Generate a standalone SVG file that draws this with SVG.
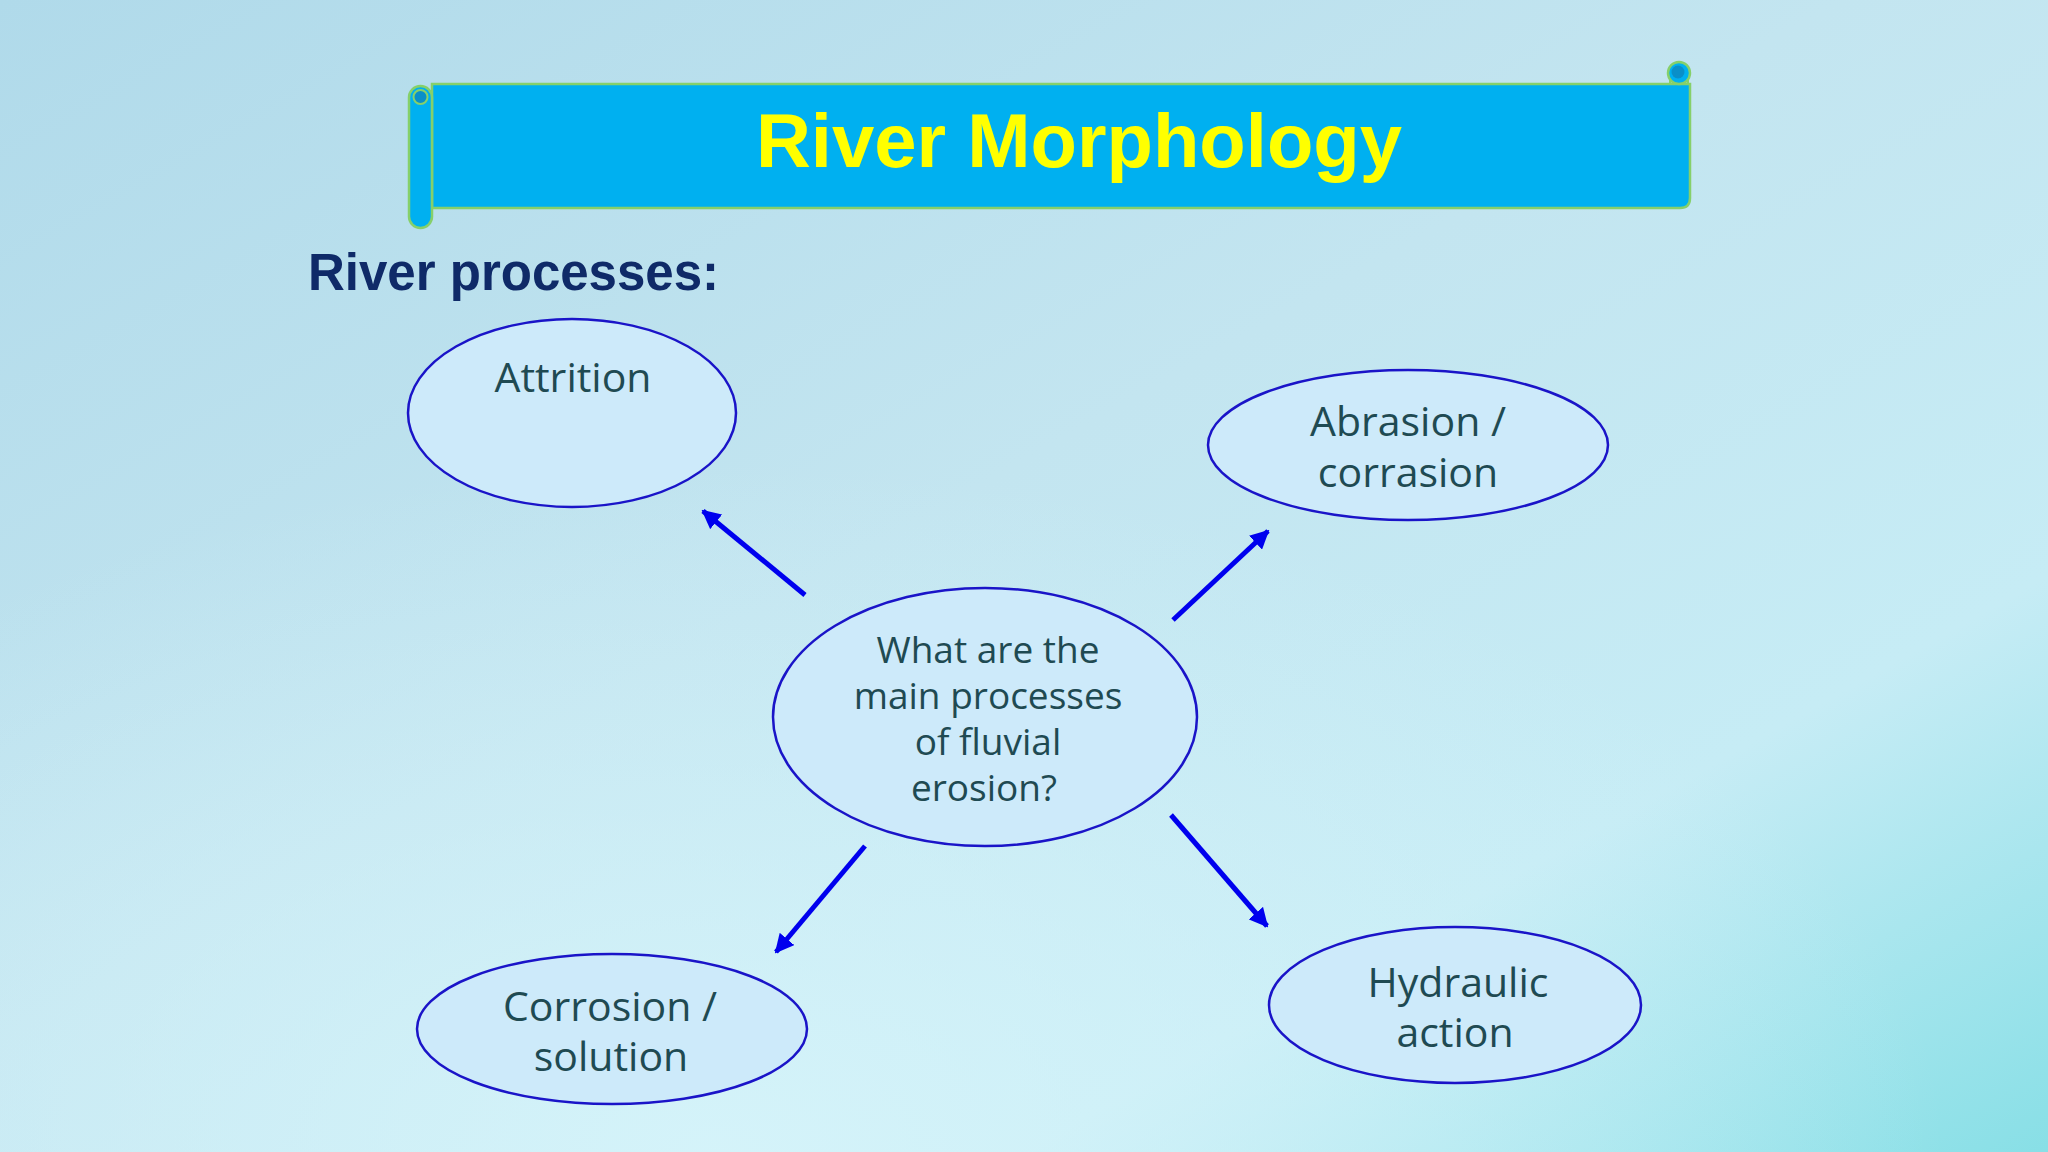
<svg xmlns="http://www.w3.org/2000/svg" width="2048" height="1152" viewBox="0 0 2048 1152">
<defs>
<linearGradient id="bg" x1="0" y1="0" x2="1" y2="1">
<stop offset="0" stop-color="#b0daea"/>
<stop offset="0.45" stop-color="#c3e5f0"/>
<stop offset="0.75" stop-color="#c6ecf5"/>
<stop offset="1" stop-color="#88dfe6"/>
</linearGradient>
<radialGradient id="glow" cx="0.35" cy="1" r="0.6">
<stop offset="0" stop-color="#d6f4fa" stop-opacity="0.9"/>
<stop offset="1" stop-color="#d6f4fa" stop-opacity="0"/>
</radialGradient>
<marker id="ah" viewBox="0 0 10 10" refX="9" refY="5" markerWidth="3.8" markerHeight="3.8" orient="auto" markerUnits="strokeWidth">
<path d="M0,0 L10,5 L0,10 Z" fill="#0000ee"/>
</marker>
<style>
.node ellipse{fill:#cdeafa;stroke:#1a14c8;stroke-width:2.5}
.node text{font-family:"Open Sans","Noto Sans",sans-serif;fill:#1f4a52;text-anchor:middle}
.outer text{font-size:41px}
.center text{font-size:37px}
.conn line{stroke:#0000ee;stroke-width:5;marker-end:url(#ah)}
.scroll{fill:#00b0f0;stroke:#86d06a;stroke-width:2.5}
</style>
</defs>
<rect width="2048" height="1152" fill="url(#bg)"/>
<rect width="2048" height="1152" fill="url(#glow)"/>

<g id="banner">
<path class="scroll" d="M1690,84 L1690,198 Q1690,208 1680,208 L432,208 L432,84 Z"/>
<circle class="scroll" cx="1679" cy="73" r="11"/>
<path d="M1670,80 L1670,84 M1688,80 L1688,84" stroke="#86d06a" stroke-width="2"/>
<circle cx="1678" cy="72" r="6.5" fill="#0a8fc8"/>
<rect class="scroll" x="409" y="86" width="23" height="142" rx="11.5"/>
<circle cx="420.5" cy="97" r="7" fill="#0a8fc8" stroke="#86d06a" stroke-width="2"/>
<text x="1079" y="167" font-family="'Liberation Sans',Arial,sans-serif" font-weight="bold" font-size="76" fill="#ffff00" text-anchor="middle">River Morphology</text>
</g>

<text id="subtitle" x="308" y="290" font-family="'Liberation Sans',Arial,sans-serif" font-weight="bold" font-size="51" fill="#0f2a68">River processes:</text>

<g id="connectors" class="conn">
<line x1="805" y1="595" x2="703" y2="511"/>
<line x1="1173" y1="620" x2="1268" y2="531"/>
<line x1="865" y1="846" x2="776" y2="952"/>
<line x1="1171" y1="815" x2="1267" y2="926"/>
</g>

<g id="node-center" class="node center">
<ellipse cx="985" cy="717" rx="212" ry="129"/>
<text x="988" y="663">What are the</text>
<text x="988" y="709">main processes</text>
<text x="988" y="755">of fluvial</text>
<text x="984" y="801">erosion?</text>
</g>

<g id="node-attrition" class="node outer">
<ellipse cx="572" cy="413" rx="164" ry="94"/>
<text x="573" y="392">Attrition</text>
</g>

<g id="node-abrasion" class="node outer">
<ellipse cx="1408" cy="445" rx="200" ry="75"/>
<text x="1408" y="436">Abrasion /</text>
<text x="1408" y="487">corrasion</text>
</g>

<g id="node-corrosion" class="node outer">
<ellipse cx="612" cy="1029" rx="195" ry="75"/>
<text x="610" y="1021">Corrosion /</text>
<text x="611" y="1071">solution</text>
</g>

<g id="node-hydraulic" class="node outer">
<ellipse cx="1455" cy="1005" rx="186" ry="78"/>
<text x="1458" y="997">Hydraulic</text>
<text x="1455" y="1047">action</text>
</g>
</svg>
